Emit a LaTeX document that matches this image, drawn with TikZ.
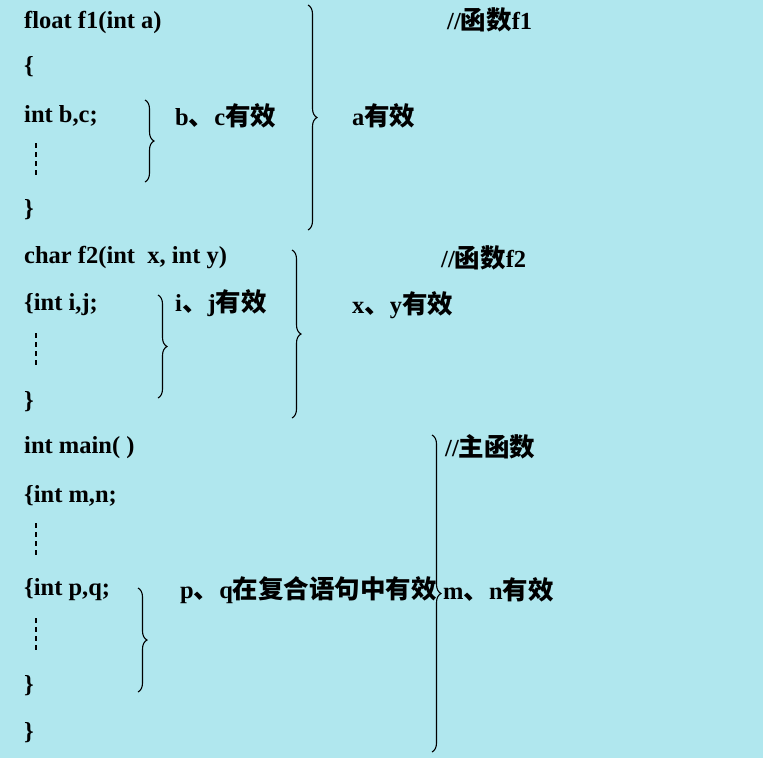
\documentclass[tikz,border=0pt]{standalone}
\usepackage{fontspec}
\setmainfont{Liberation Serif}
\newfontfamily\cjk{Noto Sans CJK SC}
\usetikzlibrary{decorations.pathreplacing}
\definecolor{bg}{HTML}{B0E7EE}
\tikzset{
  code/.style={anchor=west,inner sep=0pt,font=\fontsize{24.5}{28}\selectfont\bfseries},
  lab/.style={anchor=west,inner sep=0pt,font=\fontsize{24.5}{28}\selectfont\bfseries},
  br/.style={decorate,decoration={brace,amplitude=9pt},line width=1.1pt},
  dots/.style={line width=1.8pt,dash pattern=on 5pt off 4pt}
}
\newcommand{\cj}[1]{{\cjk\fontsize{25.5}{28}\selectfont\bfseries #1}}
\begin{document}
\begin{tikzpicture}[x=1pt,y=-1pt]
\fill[bg] (0,0) rectangle (763,758);
\useasboundingbox (0,0) rectangle (763,758);
% code
\node[code] (l1) at (24,22) {float f1(int a)};
\node[code] (l2) at (24,67) {\{};
\node[code] (l3) at (24,116) {int b,c;};
\coordinate (d1a) at (36,143); \coordinate (d1b) at (36,177);
\draw[dots] (d1a) -- (d1b);
\node[code] (l4) at (24,210) {\}};
\node[code] (l5) at (24,258) {char f2(int\ \ x, int y)};
\node[code] (l6) at (24,305) {\{int i,j;};
\coordinate (d2a) at (36,333); \coordinate (d2b) at (36,367);
\draw[dots] (d2a) -- (d2b);
\node[code] (l7) at (24,402) {\}};
\node[code] (l8) at (24,448) {int main( )};
\node[code] (l9) at (24,496) {\{int m,n;};
\coordinate (d3a) at (36,523); \coordinate (d3b) at (36,557);
\draw[dots] (d3a) -- (d3b);
\node[code] (l10) at (24,590) {\{int p,q;};
\coordinate (d4a) at (36,618); \coordinate (d4b) at (36,652);
\draw[dots] (d4a) -- (d4b);
\node[code] (l11) at (24,686) {\}};
\node[code] (l12) at (24,733) {\}};
% labels
\node[lab] (t1) at (447,20) {//\cj{函数}f1};
\node[lab] (t2) at (175,116) {b\cj{、}c\cj{有效}};
\node[lab] (t3) at (352,116) {a\cj{有效}};
\node[lab] (t4) at (441,258) {//\cj{函数}f2};
\node[lab] (t5) at (175,303) {i\cj{、}j\cj{有效}};
\node[lab] (t6) at (352,305) {x\cj{、}y\cj{有效}};
\node[lab] (t7) at (445,447) {//\cj{主函数}};
\node[lab] (t8) at (180,590) {p\cj{、}q\cj{在复合语句中有效}};
\node[lab] (t9) at (443,590) {m\cj{、}n\cj{有效}};
% braces
\coordinate (b1a) at (308,5); \coordinate (b1b) at (308,230);
\draw[br] (b1a) -- (b1b);
\coordinate (b2a) at (145,100); \coordinate (b2b) at (145,182);
\draw[br] (b2a) -- (b2b);
\coordinate (b3a) at (292,250); \coordinate (b3b) at (292,418);
\draw[br] (b3a) -- (b3b);
\coordinate (b4a) at (158,295); \coordinate (b4b) at (158,398);
\draw[br] (b4a) -- (b4b);
\coordinate (b5a) at (138,588); \coordinate (b5b) at (138,692);
\draw[br] (b5a) -- (b5b);
\coordinate (b6a) at (432,435); \coordinate (b6b) at (432,752);
\draw[br] (b6a) -- (b6b);
\end{tikzpicture}
\end{document}
